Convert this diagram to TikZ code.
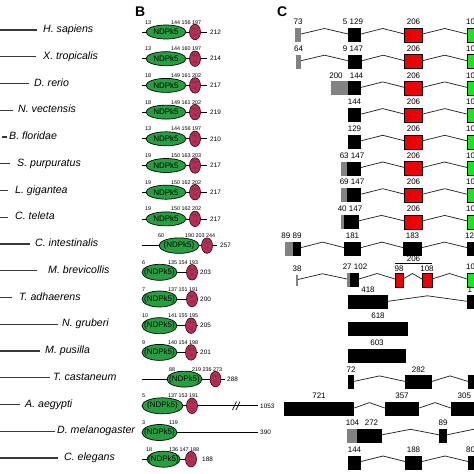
\documentclass[tikz,border=0pt]{standalone}
\usepackage{fontspec}
\setmainfont{Liberation Sans}
\usetikzlibrary{calc,shapes.geometric}
\definecolor{ndpk}{RGB}{36,160,64}
\definecolor{dpyc}{RGB}{190,42,86}
\definecolor{exr}{RGB}{238,0,0}
\definecolor{exg}{RGB}{30,228,30}
\definecolor{utrg}{RGB}{130,130,130}
\newcommand\mb[1]{\makebox[0pt]{#1}}
\newcommand\dpytxt{\makebox[0pt]{\fontsize{3.6}{4}\selectfont\color{black!75}\shortstack{Dpy\\30}}}
\newcommand\intron[2]{\draw[intr] ([yshift=1pt]#1.east) -- ($(#1.east)!.5!(#2.west)+(0,-6.5)$) -- ([yshift=1pt]#2.west);}
\begin{document}
\begin{tikzpicture}[x=1pt,y=-1pt,
 sp/.style={font=\fontsize{10.6}{12}\selectfont\itshape, anchor=mid west, inner ysep=0},
 tree/.style={line width=1.2pt, draw=black!78},
 panel/.style={font=\fontsize{14}{16}\selectfont\bfseries, anchor=north west, inner sep=0},
 bln/.style={line width=0.8pt, draw=black},
 ndp/.style={ellipse, draw=black, line width=0.7pt, fill=ndpk, minimum height=14pt, inner sep=0, font=\fontsize{8}{9}\selectfont},
 dpy/.style={ellipse, draw=black!80!dpyc, line width=0.6pt, fill=dpyc, minimum width=11pt, minimum height=15.5pt, inner sep=0},
 bn/.style={font=\fontsize{5.4}{6}\selectfont, inner sep=0, anchor=base west, yshift=8pt},
 bl/.style={font=\fontsize{6.4}{7}\selectfont, inner sep=0, anchor=west},
 ex/.style={rectangle, inner sep=0, outer sep=0, minimum height=14pt},
 blk/.style={ex, fill=black},
 utr/.style={ex, fill=utrg},
 rex/.style={ex, fill=exr, draw=black, line width=0.6pt},
 gex/.style={ex, fill=exg, draw=black, line width=0.6pt},
 cl/.style={font=\fontsize{8}{9}\selectfont, inner sep=0},
 every label/.style={cl},
 label distance=3pt,
 intr/.style={line width=0.75pt, draw=black!85, line join=round}
]
\useasboundingbox (0,0) rectangle (474,474);

% ---------- panel A: species tree tips ----------
\foreach \k/\a/\b/\c/\t in {1/0/37/43/H. sapiens, 2/0/36/43/X. tropicalis, 3/0/29/34/D. rerio,
  4/0/13/18/N. vectensis, 5/2/7/9/B. floridae, 6/0/10/17/S. purpuratus, 7/0/8/15/L. gigantea,
  8/0/8/15/C. teleta, 9/0/30/35/C. intestinalis, 10/0/37/48/M. brevicollis, 11/0/12/19/T. adhaerens,
  12/0/58/62/N. gruberi, 13/0/40/45/M. pusilla, 14/0/50/53/T. castaneum, 15/0/20/25/A. aegypti,
  16/0/55/57/D. melanogaster, 17/0/58/64/C. elegans}{
  \pgfmathsetmacro\yy{30+(\k-1)*26.75}
  \pgfmathsetmacro\gp{\c-\b}
  \coordinate (r\k) at (\a,\yy);
  \node[sp, inner xsep=\gp pt] (s\k) at (\b,\yy) {\t};
  \draw[tree] (r\k) -- (s\k.mid west);
}

% ---------- panel B ----------
\node[panel] (pB) at (135,7) {B};
\foreach \k/\y/\n/\m/\e in {1/32/13/144 156 197/212, 2/58.7/13/144 160 197/214, 3/85.4/18/149 161 202/217,
  4/112.1/18/149 161 202/219, 5/138.8/13/144 156 197/210, 6/165.5/19/150 163 203/217,
  7/192.2/19/150 162 202/217, 8/218.9/19/150 162 202/217}{
  \coordinate (bl\k) at (142,\y); \coordinate (br\k) at (207,\y);
  \draw[bln] (bl\k) -- (br\k);
  \node[ndp, minimum width=40pt] (be\k) at (166,\y) {\mb{NDPk5}};
  \node[dpy] (bd\k) at (195,\y) {\dpytxt};
  \node[bn] (bna\k) at (145,\y) {\n};
  \node[bn] (bnb\k) at (171,\y) {\m};
  \node[bl] (bnc\k) at (210,\y) {\e};
}
% row 9
\coordinate (bl9) at (142,245.6); \coordinate (br9) at (217,245.6);
\draw[bln] (bl9) -- (br9);
\node[ndp, minimum width=40pt, minimum height=15.5pt] (be9) at (179,245.6) {\mb{(NDPk5)}};
\node[dpy] (bd9) at (207,245.6) {\dpytxt};
\node[bn] (bna9) at (158,245.6) {60};
\node[bn] (bnb9) at (185,245.6) {190 203 244};
\node[bl] (bnc9) at (220,245.6) {257};
% rows 10-13
\foreach \k/\y/\rx/\n/\m/\e in {10/272.3/192/6/135 154 193/203, 11/299/192/7/137 151 191/200,
  12/325.7/191/10/141 155 195/205, 13/352.4/191/9/140 154 198/201}{
  \coordinate (bl\k) at (142,\y); \coordinate (br\k) at (198,\y);
  \draw[bln] (bl\k) -- (br\k);
  \node[ndp, minimum width=35pt, minimum height=16pt] (be\k) at (159.5,\y) {\mb{(NDPk5)}};
  \node[dpy] (bd\k) at (\rx,\y) {\dpytxt};
  \node[bn] (bna\k) at (142,\y) {\n};
  \node[bn] (bnb\k) at (168,\y) {\m};
  \node[bl] (bnc\k) at (200,\y) {\e};
}
% row 14
\coordinate (bl14) at (142,379.1); \coordinate (br14) at (225,379.1);
\draw[bln] (bl14) -- (br14);
\node[ndp, minimum width=35pt, minimum height=16pt] (be14) at (184.5,379.1) {\mb{(NDPk5)}};
\node[dpy] (bd14) at (215.5,379.1) {\dpytxt};
\node[bn] (bna14) at (169,379.1) {88};
\node[bn] (bnb14) at (192,379.1) {219 236 273};
\node[bl] (bnc14) at (227,379.1) {288};
% row 15
\coordinate (bl15) at (142,405.8); \coordinate (br15) at (258,405.8);
\draw[bln] (bl15) -- (br15);
\coordinate (sl1a) at (232.5,410); \coordinate (sl1b) at (236.5,401.5);
\coordinate (sl2a) at (236,410); \coordinate (sl2b) at (240,401.5);
\draw[bln, line width=0.7pt] (sl1a) -- (sl1b);
\draw[bln, line width=0.7pt] (sl2a) -- (sl2b);
\node[ndp, minimum width=41pt, minimum height=16pt] (be15) at (162.5,405.8) {\mb{(NDPk5)}};
\node[dpy] (bd15) at (192,405.8) {\dpytxt};
\node[bn] (bna15) at (142,405.8) {5};
\node[bn] (bnb15) at (168,405.8) {137 153 191};
\node[bl] (bnc15) at (260,405.8) {1053};
% row 16
\coordinate (bl16) at (142,432.5); \coordinate (br16) at (258,432.5);
\draw[bln] (bl16) -- (br16);
\node[ndp, minimum width=35pt, minimum height=16pt] (be16) at (159.5,432.5) {\mb{(NDPk5)}};
\node[bn] (bna16) at (142,432.5) {3};
\node[bn] (bnb16) at (169,432.5) {119};
\node[bl] (bnc16) at (260,432.5) {390};
% row 17
\coordinate (bl17) at (142,459.2); \coordinate (br17) at (192,459.2);
\draw[bln] (bl17) -- (br17);
\node[ndp, minimum width=33pt, minimum height=16pt] (be17) at (163.5,459.2) {\mb{(NDPk5)}};
\node[dpy] (bd17) at (191,459.2) {\dpytxt};
\node[bn] (bna17) at (146,459.2) {18};
\node[bn] (bnb17) at (169,459.2) {136 147 188};
\node[bl] (bnc17) at (202,459.2) {188};

% ---------- panel C ----------
\node[panel] (pC) at (277,7) {C};
% rows 1-2
\node[utr, minimum width=6pt, label=above:73] (c1a) at (298,35) {};
\node[blk, minimum width=13pt] (c1b) at (354.5,35) {};
\node[cl, anchor=south] (c1bl) at (353,25) {5 129};
\node[rex, minimum width=18pt, label=above:206] (c1c) at (413.5,35) {};
\node[gex, minimum width=18pt] (c1d) at (476,35) {};
\node[cl, anchor=south west] (c1dl) at (466,25) {10};
\intron{c1a}{c1b} \intron{c1b}{c1c} \intron{c1c}{c1d}

\node[utr, minimum width=5pt, label=above:64] (c2a) at (298.5,61.7) {};
\node[blk, minimum width=14pt] (c2b) at (355,61.7) {};
\node[cl, anchor=south] (c2bl) at (353,51.7) {9 147};
\node[rex, minimum width=18pt, label=above:206] (c2c) at (413.5,61.7) {};
\node[gex, minimum width=18pt] (c2d) at (476,61.7) {};
\node[cl, anchor=south west] (c2dl) at (466,51.7) {10};
\intron{c2a}{c2b} \intron{c2b}{c2c} \intron{c2c}{c2d}
% row 3
\node[utr, minimum width=17pt] (c3a) at (339.5,88.4) {};
\node[cl, anchor=south] (c3al) at (336,78.4) {200};
\node[blk, minimum width=13pt] (c3b) at (354.5,88.4) {};
\node[cl, anchor=south] (c3bl) at (356.5,78.4) {144};
\node[rex, minimum width=18pt, label=above:206] (c3c) at (413.5,88.4) {};
\node[gex, minimum width=18pt] (c3d) at (476,88.4) {};
\node[cl, anchor=south west] (c3dl) at (466,78.4) {10};
\intron{c3b}{c3c} \intron{c3c}{c3d}
% rows 4-5
\foreach \k/\y/\l in {4/115.1/144, 5/141.8/129}{
  \pgfmathsetmacro\ly{\y-10}
  \node[blk, minimum width=13pt, label=above:\l] (c\k b) at (354.5,\y) {};
  \node[rex, minimum width=18pt, label=above:206] (c\k c) at (413.5,\y) {};
  \node[gex, minimum width=18pt] (c\k d) at (476,\y) {};
  \node[cl, anchor=south west] (c\k dl) at (466,\ly) {10};
  \intron{c\k b}{c\k c} \intron{c\k c}{c\k d}
}
% rows 6-8
\foreach \k/\y/\gx/\gw/\bx/\bw/\l/\lx in {6/168.5/344/6/354/14/63 147/352, 7/195.2/344/6/354/14/69 147/352,
  8/221.9/342.25/2.5/351/15/40 147/350}{
  \pgfmathsetmacro\ly{\y-10}
  \node[utr, minimum width=\gw pt] (c\k a) at (\gx,\y) {};
  \node[blk, minimum width=\bw pt] (c\k b) at (\bx,\y) {};
  \node[cl, anchor=south] (c\k bl) at (\lx,\ly) {\l};
  \node[rex, minimum width=18pt, label=above:206] (c\k c) at (413.5,\y) {};
  \node[gex, minimum width=18pt] (c\k d) at (476,\y) {};
  \node[cl, anchor=south west] (c\k dl) at (466,\ly) {10};
  \intron{c\k b}{c\k c} \intron{c\k c}{c\k d}
}
% row 9
\node[utr, minimum width=8pt] (c9a) at (289,248.6) {};
\node[blk, minimum width=8pt] (c9b) at (297,248.6) {};
\node[cl, anchor=south] (c9bl) at (291.5,238.6) {89 89};
\node[blk, minimum width=17pt, label=above:181] (c9c) at (352.5,248.6) {};
\node[blk, minimum width=19pt, label=above:183] (c9d) at (412.5,248.6) {};
\node[blk, minimum width=18pt] (c9e) at (476,248.6) {};
\node[cl, anchor=south west] (c9el) at (465,238.6) {12};
\intron{c9b}{c9c} \intron{c9c}{c9d} \intron{c9d}{c9e}
% row 10
\node[utr, minimum width=2pt, minimum height=11pt, label=above:38] (c10a) at (297,280.5) {};
\node[utr, minimum width=3pt] (c10b) at (348.5,280) {};
\node[blk, minimum width=9pt] (c10c) at (354.5,280) {};
\node[cl, anchor=south] (c10cl) at (355,270) {27 102};
\node[rex, minimum width=8pt, label={[label distance=1.5pt]above:98}] (c10d) at (399,280) {};
\node[rex, minimum width=10pt, label={[label distance=1.5pt]above:108}] (c10e) at (427,280) {};
\coordinate (ov1) at ($(c10d.north west)+(0,-10)$);
\coordinate (ov2) at ($(c10e.north east)+(0,-10)$);
\draw[line width=0.6pt] (ov1) -- (ov2);
\node[cl, anchor=south] (c10ol) at ($(ov1)!.5!(ov2)+(0,-0.8)$) {206};
\node[gex, minimum width=18pt] (c10f) at (476,280) {};
\node[cl, anchor=south west] (c10fl) at (466,270) {10};
\intron{c10a}{c10b} \intron{c10c}{c10d} \intron{c10d}{c10e} \intron{c10e}{c10f}
% row 11
\node[blk, minimum width=40pt, label=above:418] (c11a) at (368,302.3) {};
\node[blk, minimum width=18pt] (c11b) at (476,302.3) {};
\node[cl, anchor=south west] (c11bl) at (467.5,292.3) {1};
\intron{c11a}{c11b}
% rows 12-13
\node[blk, minimum width=60pt, label=above:618] (c12a) at (378,329) {};
\node[blk, minimum width=58pt, label=above:603] (c13a) at (377,355.7) {};
% row 14
\node[blk, minimum width=6pt, label=above:72] (c14a) at (351,382.4) {};
\node[blk, minimum width=27pt, label=above:282] (c14b) at (418.5,382.4) {};
\node[blk, minimum width=18pt] (c14c) at (477,382.4) {};
\intron{c14a}{c14b} \intron{c14b}{c14c}
% row 15
\node[blk, minimum width=70pt, label=above:721] (c15a) at (319,409.1) {};
\node[blk, minimum width=34pt, label=above:357] (c15b) at (402,409.1) {};
\node[blk, minimum width=38pt] (c15c) at (470,409.1) {};
\node[cl, anchor=south west] (c15cl) at (457.5,399.1) {305};
\intron{c15a}{c15b} \intron{c15b}{c15c}
% row 16
\node[utr, minimum width=10pt] (c16a) at (352,435.8) {};
\node[cl, anchor=south] (c16al) at (352.5,425.8) {104};
\node[blk, minimum width=25pt] (c16b) at (369.5,435.8) {};
\node[cl, anchor=south] (c16bl) at (371.5,425.8) {272};
\node[blk, minimum width=8pt, label=above:89] (c16c) at (443,435.8) {};
\coordinate (c16d) at (500,435.8);
\intron{c16b}{c16c}
\draw[intr] ([yshift=1pt]c16c.east) -- ($(c16c.east)!.5!(c16d)+(0,-6.5)$) -- ([yshift=1pt]c16d);
% row 17
\node[blk, minimum width=13pt, label=above:144] (c17a) at (354.5,462.5) {};
\node[blk, minimum width=17pt, label=above:188] (c17b) at (413.5,462.5) {};
\node[blk, minimum width=18pt] (c17c) at (477,462.5) {};
\node[cl, anchor=south west] (c17cl) at (466,452.5) {80};
\intron{c17a}{c17b} \intron{c17b}{c17c}
\end{tikzpicture}
\end{document}
